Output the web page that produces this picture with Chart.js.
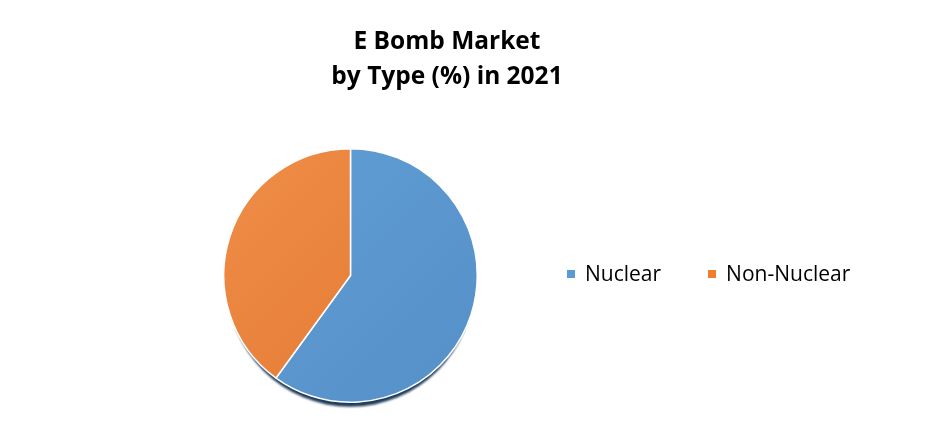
<!DOCTYPE html>
<html>
<head>
<meta charset="utf-8">
<script src="https://cdn.jsdelivr.net/npm/chart.js@4"></script>
<style>
  body { margin: 0; background: #fff; }
  #wrap { position: relative; width: 940px; height: 448px; }
  #pie_chart { position: absolute; left: 0; top: 0; }
  #title {
    position: absolute; left: 0; top: 22px; width: 894px;
    text-align: center; font: bold 24.5px "Open Sans", sans-serif;
    line-height: 35px; color: #000;
  }
  #legend {
    position: absolute; left: 567px; top: 258px;
    display: flex; font: 21px "Open Sans", sans-serif; color: #000;
    line-height: 30px;
  }
  .item { display: flex; align-items: center; margin-right: 47px; }
  .box { width: 8px; height: 8px; margin-right: 10px; margin-top: 1px; }
</style>
</head>
<body>
<div id="wrap">
  <canvas id="pie_chart" width="940" height="448"></canvas>
  <div id="title"></div>
  <div id="legend"></div>
</div>
<script>
// data
const Title_Lines = ["E Bomb Market", "by Type (%) in 2021"];
const Types = ["Nuclear", "Non-Nuclear"];
const Share = [60, 40];
const Colors = ["#5b9bd5", "#ed7d31"];
// light left-to-right shading, like the office chart
const Shade = [["#619fd6", "#5590c7"], ["#ef8d48", "#e27830"]];

document.getElementById("title").innerHTML = Title_Lines.join("<br>");

// legend in one row to the right of the pie
const legend = document.getElementById("legend");
for (let i = 0; i < Types.length; i++) {
    const item = document.createElement("div");
    item.className = "item";
    item.innerHTML = `<span class="box" style="background:${Colors[i]}"></span><span>${Types[i]}</span>`;
    legend.appendChild(item);
}

function slice_fill(context) {
    const area = context.chart.chartArea;
    const i = context.dataIndex;
    if (!area) return Colors[i];
    const g = context.chart.ctx.createLinearGradient(area.left, area.top, area.right, area.bottom);
    g.addColorStop(0, Shade[i][0]);
    g.addColorStop(1, Shade[i][1]);
    return g;
}

// dark shadow peeking out under the bottom of the pie:
// a slightly smaller disc pushed down, so it only shows near the bottom
const pieShadow = {
    id: "pieShadow",
    beforeDatasetsDraw(chart) {
        const arc = chart.getDatasetMeta(0).data[0];
        if (!arc) return;
        const ctx = chart.ctx;
        ctx.save();
        ctx.filter = "blur(0.8px)";
        ctx.beginPath();
        ctx.arc(arc.x, arc.y + 8, arc.outerRadius - 3.5, 0, Math.PI * 2);
        ctx.fillStyle = "#1f3c5a";
        ctx.fill();
        ctx.restore();
    }
};

const config = {
    type: "pie",
    data: {
        labels: Types,
        datasets: [
            {
                data: Share,
                backgroundColor: slice_fill,
                borderColor: "#ffffff",
                borderWidth: 1.5
            }
        ]
    },
    options: {
        responsive: false,
        animation: false,
        layout: {
            padding: { top: 148, bottom: 45, left: 223, right: 462 }
        },
        plugins: {
            legend: { display: false },
            title: { display: false },
            tooltip: { enabled: false }
        }
    },
    plugins: [pieShadow]
};

const canvas = document.getElementById("pie_chart");
let my_pie_chart = new Chart(canvas, config);
</script>
</body>
</html>
